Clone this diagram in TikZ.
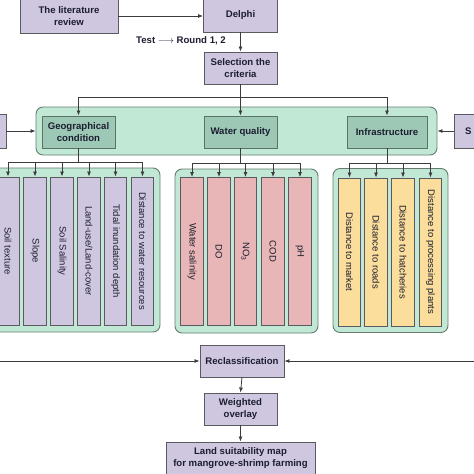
\documentclass[tikz,border=0pt]{standalone}
\usepackage{fontspec}
\usepackage{graphicx}
\setmainfont{Liberation Sans}
\usetikzlibrary{arrows.meta}
\definecolor{lav}{RGB}{207,199,224}
\definecolor{boxedge}{RGB}{90,90,96}
\definecolor{mint}{RGB}{192,232,213}
\definecolor{contedge}{RGB}{100,125,112}
\definecolor{hgreen}{RGB}{157,200,182}
\definecolor{hedge}{RGB}{90,115,103}
\definecolor{rosebox}{RGB}{232,182,182}
\definecolor{yelbox}{RGB}{252,222,156}
\definecolor{lineclr}{RGB}{60,60,64}
\definecolor{txt}{RGB}{28,30,48}
\begin{document}
\begin{tikzpicture}[x=1pt,y=-1pt,
  pbox/.style={draw=boxedge, fill=lav, line width=0.9pt, text=txt, align=center, inner sep=0pt,
    font=\bfseries\fontsize{9.6}{11.8}\selectfont},
  cont/.style={draw=contedge, fill=mint, rounded corners=7pt, line width=0.9pt, inner sep=0pt},
  hbox/.style={draw=hedge, fill=hgreen, line width=0.9pt, text=txt, align=center, inner sep=0pt,
    font=\bfseries\fontsize{9.6}{11.8}\selectfont, minimum height=32pt},
  vbox/.style={draw=boxedge, line width=0.9pt, text=txt, inner sep=0pt,
    minimum width=22.5pt, minimum height=148pt, font=\fontsize{9.5}{11}\selectfont},
  gbox/.style={vbox, fill=lav},
  rbox/.style={vbox, fill=rosebox},
  ybox/.style={vbox, fill=yelbox},
  ln/.style={draw=lineclr, line width=0.8pt},
  arr/.style={ln, -{Latex[length=5pt,width=4pt]}},
  lbl/.style={text=txt, font=\bfseries\fontsize{9.6}{11.8}\selectfont, inner sep=0pt}
]
\useasboundingbox (0,0) rectangle (474,474);

% top chain
\node[pbox, minimum width=98pt, minimum height=34pt] (lit) at (69,16) {The literature\\review};
\node[pbox, minimum width=74pt, minimum height=34pt] (del) at (240.5,15) {Delphi};
\node[lbl] (test) at (181,41) {Test $\longrightarrow$ Round 1, 2};
\node[pbox, minimum width=73pt, minimum height=32pt] (sel) at (240.5,68) {Selection the\\criteria};

% main container
\node[cont, minimum width=401pt, minimum height=48pt] (cont) at (236.5,131) {};
\node[hbox, minimum width=73pt] (geo) at (78.5,132) {Geographical\\condition};
\node[hbox, minimum width=73pt] (wat) at (240.5,132) {Water quality};
\node[hbox, minimum width=80pt] (inf) at (387,132) {Infrastructure};

% side boxes (cut by the border)
\node[pbox, minimum width=46pt, minimum height=34pt] (lft) at (-17,131) {};
\node[pbox, minimum width=66pt, minimum height=34pt, text width=60pt, align=left] (rgt) at (487,131) {\hspace*{8pt}S};

% sub containers
\node[cont, minimum width=172pt, minimum height=164pt] (gcont) at (74,250) {};
\node[cont, minimum width=143pt, minimum height=164pt] (wcont) at (246.5,251) {};
\node[cont, minimum width=115pt, minimum height=164pt] (icont) at (390.5,250.5) {};

% geographical factors
\node[gbox] (g1) at (8,251) {\rotatebox{-90}{Soil texture}};
\node[gbox] (g2) at (35,251) {\rotatebox{-90}{Slope}};
\node[gbox] (g3) at (62,251) {\rotatebox{-90}{Soil Salinity}};
\node[gbox] (g4) at (89,251) {\rotatebox{-90}{Land-use/Land-cover}};
\node[gbox] (g5) at (115.5,251) {\rotatebox{-90}{Tidal inundation depth}};
\node[gbox] (g6) at (142.5,251) {\rotatebox{-90}{Distance to water resources}};

% water quality factors
\node[rbox] (w1) at (192,251.5) {\rotatebox{-90}{Water salinity}};
\node[rbox] (w2) at (219,251.5) {\rotatebox{-90}{DO}};
\node[rbox] (w3) at (245.5,251.5) {\rotatebox{-90}{NO\textsubscript{3}}};
\node[rbox] (w4) at (273,251.5) {\rotatebox{-90}{COD}};
\node[rbox] (w5) at (300,251.5) {\rotatebox{-90}{pH}};

% infrastructure factors
\node[ybox] (i1) at (349.5,252) {\rotatebox{-90}{Distance to market}};
\node[ybox] (i2) at (376,252) {\rotatebox{-90}{Distance to roads}};
\node[ybox] (i3) at (403,252) {\rotatebox{-90}{Distance to hatcheries}};
\node[ybox] (i4) at (430.5,252) {\rotatebox{-90}{Distance to processing plants}};

% bottom chain
\node[pbox, minimum width=84pt, minimum height=32pt] (rec) at (242,361) {Reclassification};
\node[pbox, minimum width=73pt, minimum height=32pt] (wov) at (240.5,409) {Weighted\\overlay};
\node[pbox, minimum width=149pt, minimum height=32pt] (land) at (240.5,458) {Land suitability map\\for mangrove-shrimp farming};

% connectors top
\draw[arr] (lit.east) -- (lit.east -| del.west);
\draw[arr] (del.south) -- (sel.north);
\coordinate (sj) at (240.5,97);
\draw[arr] (sel.south) -- (wat.north);
\draw[arr] (sj) -| (geo.north);
\draw[arr] (sj) -| (inf.north);
\draw[arr] (lft.east) -- (cont.west);
\draw[arr] (rgt.west) -- (cont.east);

% branches
\coordinate (gb) at (78.5,162);
\draw[ln] (geo.south) -- (gb);
\draw[ln] (g1.north |- gb) -- (g6.north |- gb);
\foreach \i in {1,...,6} {\draw[arr] (g\i.north |- gb) -- (g\i.north);}

\coordinate (wb) at (240.5,163);
\draw[ln] (wat.south) -- (wb);
\draw[ln] (w1.north |- wb) -- (w5.north |- wb);
\foreach \i in {1,...,5} {\draw[arr] (w\i.north |- wb) -- (w\i.north);}

\coordinate (ib) at (387,163);
\draw[ln] (inf.south) -- (ib);
\draw[ln] (i1.north |- ib) -- (i4.north |- ib);
\foreach \i in {1,...,4} {\draw[arr] (i\i.north |- ib) -- (i\i.north);}

% bottom connectors
\coordinate (lin) at (-5,361);
\coordinate (rin) at (480,361);
\draw[arr] (lin) -- (rec.west);
\draw[arr] (rin) -- (rec.east);
\draw[arr] (rec.south) -- (wov.north);
\draw[arr] (wov.south) -- (land.north);
\end{tikzpicture}
\end{document}
